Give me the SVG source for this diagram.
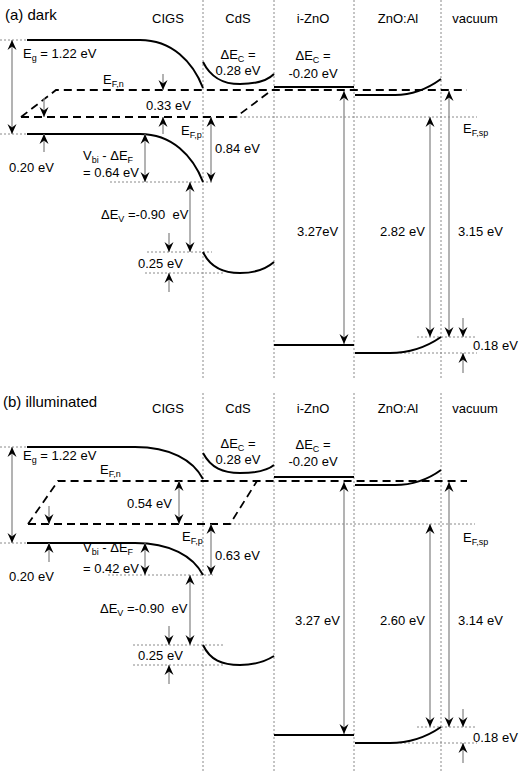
<svg xmlns="http://www.w3.org/2000/svg" width="520" height="773" viewBox="0 0 520 773">
<defs>
<marker id="ah" viewBox="0 0 10 10" refX="10" refY="5" markerWidth="10" markerHeight="10" markerUnits="userSpaceOnUse" orient="auto-start-reverse">
<path d="M0,0.5 L10,5 L0,9.5 L3.5,5 Z" fill="#000"/>
</marker>
<style>
.dot{stroke:#8a8a8a;stroke-width:1;stroke-dasharray:2,2;fill:none}
.band{stroke:#000;stroke-width:2;fill:none}
.dash{stroke:#000;stroke-width:1.8;stroke-dasharray:8,5;fill:none}
.a1{stroke:#8a8a8a;stroke-width:1.3;fill:none;marker-end:url(#ah)}
.a2{stroke:#8a8a8a;stroke-width:1.3;fill:none;marker-start:url(#ah);marker-end:url(#ah)}
text{font-family:"Liberation Sans",Arial,sans-serif;font-size:13px;fill:#000}
.t{font-size:15px}
.m{text-anchor:middle}
.s{font-size:9px}
</style>
</defs>
<rect width="520" height="773" fill="#fff"/>

<!-- ===== Panel (a) ===== -->
<g id="panel-a">
<g id="a-grid">
<line class="dot" x1="203" y1="0" x2="203" y2="380"/>
<line class="dot" x1="274" y1="0" x2="274" y2="380"/>
<line class="dot" x1="354" y1="0" x2="354" y2="380"/>
<line class="dot" x1="441" y1="0" x2="441" y2="380"/>
<line class="dot" x1="0" y1="40" x2="27" y2="40"/>
<line class="dot" x1="0" y1="134" x2="27" y2="134"/>
<line class="dot" x1="236" y1="117" x2="477" y2="117"/>
<line class="dot" x1="110" y1="182" x2="213" y2="182"/>
<line class="dot" x1="147" y1="252" x2="212" y2="252"/>
<line class="dot" x1="145" y1="273" x2="225" y2="273"/>
<line class="dot" x1="417" y1="337" x2="477" y2="337"/>
<line class="dot" x1="400" y1="353" x2="477" y2="353"/>
</g>
<g id="a-titles">
<text class="t" x="5" y="20">(a) dark</text>
<text class="m" x="168" y="23">CIGS</text>
<text class="m" x="238" y="23">CdS</text>
<text class="m" x="313" y="23">i-ZnO</text>
<text class="m" x="398" y="23">ZnO:Al</text>
<text class="m" x="475" y="23">vacuum</text>
</g>
<g id="a-cigs">
<path class="band" d="M27,40 H140 C172,40 193,62 203,88"/>
<path class="band" d="M27,134 H140 C172,134 193,156 203,182"/>
</g>
<g id="a-cds">
<path class="band" d="M203,62 C211,78 223,84 240,84 C257,84 268,80 274,74"/>
<path class="band" d="M203,252 C210,267 222,273 240,273 C255,273 266,269 274,262"/>
</g>
<g id="a-izno">
<line class="band" x1="274" y1="87" x2="354" y2="87" stroke-width="2.4"/>
<line class="band" x1="274" y1="345" x2="354" y2="345" stroke-width="2.4"/>
</g>
<g id="a-znoal">
<path class="band" d="M355,95 H395 C414,95 430,87 441,79"/>
<path class="band" d="M355,353 H390 C410,353 428,346 441,337"/>
</g>
<g id="a-fermi">
<path class="dash" d="M21,117 L56,90 H467"/>
<path class="dash" d="M21,117 H236 L272,90"/>
</g>
<g id="a-connectors">
<line class="a2" x1="12" y1="40" x2="12" y2="134"/>
<line class="a1" x1="163" y1="74" x2="163" y2="90"/>
<line class="a1" x1="163" y1="134" x2="163" y2="117"/>
<line class="a1" x1="44" y1="98" x2="44" y2="117"/>
<line class="a1" x1="44" y1="152" x2="44" y2="134"/>
<line class="a2" x1="145" y1="134" x2="145" y2="182"/>
<line class="a2" x1="211" y1="117" x2="211" y2="182"/>
<line class="a2" x1="190" y1="182" x2="190" y2="252"/>
<line class="a1" x1="169" y1="233" x2="169" y2="252"/>
<line class="a1" x1="169" y1="292" x2="169" y2="273"/>
<line class="a2" x1="344" y1="91" x2="344" y2="344"/>
<line class="a2" x1="430" y1="117" x2="430" y2="337"/>
<line class="a2" x1="449" y1="91" x2="449" y2="337"/>
<line class="a1" x1="463" y1="318" x2="463" y2="337"/>
<line class="a1" x1="463" y1="373" x2="463" y2="353"/>
</g>
<g id="a-labels">
<text x="23" y="58">E<tspan class="s" dy="3">g</tspan><tspan dy="-3"> = 1.22 eV</tspan></text>
<text x="103" y="84">E<tspan class="s" dy="2.5">F,n</tspan></text>
<text x="146" y="110">0.33 eV</text>
<text x="181" y="135">E<tspan class="s" dy="3">F,p</tspan></text>
<text x="9" y="172">0.20 eV</text>
<text x="83" y="160">V<tspan class="s" dy="3">bi</tspan><tspan dy="-3"> - ΔE</tspan><tspan class="s" dy="3">F</tspan></text>
<text x="83" y="177">= 0.64 eV</text>
<text x="215" y="153">0.84 eV</text>
<text x="101" y="219">ΔE<tspan class="s" dy="3">V</tspan><tspan dy="-3"> =-0.90 &#160;eV</tspan></text>
<text x="138" y="268">0.25 eV</text>
<text class="m" x="238" y="59">ΔE<tspan class="s" dy="3">C</tspan><tspan dy="-3"> =</tspan></text>
<text class="m" x="238" y="75">0.28 eV</text>
<text class="m" x="313" y="60">ΔE<tspan class="s" dy="3">C</tspan><tspan dy="-3"> =</tspan></text>
<text class="m" x="313" y="78">-0.20 eV</text>
<text x="297" y="236">3.27eV</text>
<text x="380" y="236">2.82 eV</text>
<text x="458" y="236">3.15 eV</text>
<text x="463" y="133">E<tspan class="s" dy="3">F,sp</tspan></text>
<text x="473" y="350">0.18 eV</text>
</g>
</g>

<!-- ===== Panel (b) ===== -->
<g id="panel-b">
<g id="b-grid">
<line class="dot" x1="203" y1="393" x2="203" y2="773"/>
<line class="dot" x1="274" y1="393" x2="274" y2="773"/>
<line class="dot" x1="354" y1="393" x2="354" y2="773"/>
<line class="dot" x1="441" y1="393" x2="441" y2="773"/>
<line class="dot" x1="0" y1="447" x2="27" y2="447"/>
<line class="dot" x1="0" y1="543" x2="27" y2="543"/>
<line class="dot" x1="230" y1="524" x2="475" y2="524"/>
<line class="dot" x1="108" y1="575" x2="213" y2="575"/>
<line class="dot" x1="133" y1="645" x2="223" y2="645"/>
<line class="dot" x1="133" y1="665" x2="223" y2="665"/>
<line class="dot" x1="417" y1="727" x2="477" y2="727"/>
<line class="dot" x1="400" y1="743" x2="477" y2="743"/>
</g>
<g id="b-titles">
<text class="t" x="3" y="407">(b) illuminated</text>
<text class="m" x="168" y="413">CIGS</text>
<text class="m" x="238" y="413">CdS</text>
<text class="m" x="313" y="413">i-ZnO</text>
<text class="m" x="398" y="413">ZnO:Al</text>
<text class="m" x="475" y="413">vacuum</text>
</g>
<g id="b-cigs">
<path class="band" d="M27,447 H135 C170,447 193,460 203,479"/>
<path class="band" d="M27,543 H135 C170,543 193,556 203,575"/>
</g>
<g id="b-cds">
<path class="band" d="M203,453 C211,468 223,473 240,473 C257,473 268,470 274,465"/>
<path class="band" d="M203,645 C210,660 222,665 240,665 C255,665 266,661 274,656"/>
</g>
<g id="b-izno">
<line class="band" x1="274" y1="477" x2="354" y2="477" stroke-width="2.4"/>
<line class="band" x1="274" y1="735" x2="354" y2="735" stroke-width="2.4"/>
</g>
<g id="b-znoal">
<path class="band" d="M355,485 H395 C414,485 430,478 441,470"/>
<path class="band" d="M355,743 H390 C410,743 428,736 441,727"/>
</g>
<g id="b-fermi">
<path class="dash" d="M28,524 L58,481 H467"/>
<path class="dash" d="M28,524 H230 L257,481"/>
</g>
<g id="b-connectors">
<line class="a2" x1="12" y1="447" x2="12" y2="543"/>
<line class="a1" x1="49" y1="506" x2="49" y2="524"/>
<line class="a1" x1="49" y1="562" x2="49" y2="543"/>
<line class="a2" x1="179" y1="481" x2="179" y2="524"/>
<line class="a2" x1="145" y1="543" x2="145" y2="575"/>
<line class="a2" x1="211" y1="524" x2="211" y2="575"/>
<line class="a2" x1="190" y1="575" x2="190" y2="645"/>
<line class="a1" x1="169" y1="626" x2="169" y2="645"/>
<line class="a1" x1="169" y1="684" x2="169" y2="665"/>
<line class="a2" x1="344" y1="482" x2="344" y2="734"/>
<line class="a2" x1="430" y1="524" x2="430" y2="727"/>
<line class="a2" x1="449" y1="482" x2="449" y2="727"/>
<line class="a1" x1="463" y1="709" x2="463" y2="727"/>
<line class="a1" x1="463" y1="763" x2="463" y2="743"/>
</g>
<g id="b-labels">
<text x="23" y="460">E<tspan class="s" dy="3">g</tspan><tspan dy="-3"> = 1.22 eV</tspan></text>
<text x="100" y="474">E<tspan class="s" dy="2.5">F,n</tspan></text>
<text x="127" y="508">0.54 eV</text>
<text x="182" y="541">E<tspan class="s" dy="3">F,p</tspan></text>
<text x="9" y="581">0.20 eV</text>
<text x="83" y="552">V<tspan class="s" dy="3">bi</tspan><tspan dy="-3"> - ΔE</tspan><tspan class="s" dy="3">F</tspan></text>
<text x="83" y="573">= 0.42 eV</text>
<text x="215" y="560">0.63 eV</text>
<text x="100" y="613">ΔE<tspan class="s" dy="3">V</tspan><tspan dy="-3"> =-0.90 &#160;eV</tspan></text>
<text x="138" y="660">0.25 eV</text>
<text class="m" x="238" y="448">ΔE<tspan class="s" dy="3">C</tspan><tspan dy="-3"> =</tspan></text>
<text class="m" x="238" y="464">0.28 eV</text>
<text class="m" x="313" y="449">ΔE<tspan class="s" dy="3">C</tspan><tspan dy="-3"> =</tspan></text>
<text class="m" x="313" y="466">-0.20 eV</text>
<text x="295" y="625">3.27 eV</text>
<text x="380" y="625">2.60 eV</text>
<text x="458" y="625">3.14 eV</text>
<text x="463" y="542">E<tspan class="s" dy="3">F,sp</tspan></text>
<text x="473" y="742">0.18 eV</text>
</g>
</g>
</svg>
